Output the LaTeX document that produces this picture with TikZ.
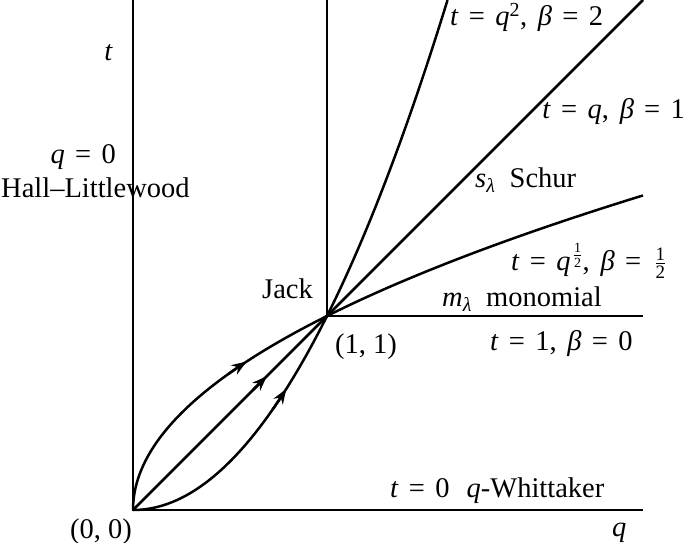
\documentclass[tikz,border=0pt]{standalone}
\usepackage{amsmath}
\usepackage{fontspec}
\setmainfont{Liberation Serif}
\usetikzlibrary{arrows.meta}
\newcommand{\vi}[1]{\textit{#1}}
\newcommand{\eqs}{\hspace{0.36em}=\hspace{0.36em}}
\newcommand{\cms}{,\hspace{0.38em}}
\newcommand{\fd}[2]{\hbox{\fontsize{#1}{#1}\selectfont #2}}
\newcommand{\half}{$\frac{\fd{19}{1}}{\fd{19}{2}}$}
\newcommand{\suphalf}{$^{\frac{\fd{14}{1}}{\fd{14}{2}}}$}
\begin{document}
\begin{tikzpicture}[x=1pt,y=-1pt,
  axis/.style={line width=2.5pt},
  crv/.style={line width=2.5pt},
  tip/.style={line width=2.5pt,-{Stealth[length=15pt,width=11pt]}},
  lbl/.style={inner sep=0pt,font=\fontsize{28.5}{34}\selectfont}]
\useasboundingbox (0,0) rectangle (685,543);
% axes and lines
\coordinate (O) at (133,510);
\coordinate (P) at (327,316);
\coordinate (Otop) at (133,0);
\coordinate (Qend) at (643,510);
\coordinate (Ptop) at (327,0);
\coordinate (Pright) at (643,316);
\coordinate (Dend) at (643,0);
\draw[axis] (Otop) -- (O) -- (Qend);
\draw[axis] (Ptop) -- (P) -- (Pright);
% diagonal t=q
\draw[crv] (O) -- (Dend);
% t = q^2
\draw[crv,smooth,samples=80,domain=0:1.6214] plot ({133+194*\x},{510-194*\x*\x});
% t = q^(1/2)
\draw[crv,smooth,samples=80,domain=0:1.6214] plot ({133+194*\x*\x},{510-194*\x});
% arrows
\draw[tip,smooth,samples=5,domain=0.70:0.765] plot ({133+194*\x*\x},{510-194*\x});
\draw[tip] (O) ++(0.62*194,-0.62*194) -- ++(0.07*194,-0.07*194);
\draw[tip,smooth,samples=5,domain=0.72:0.79] plot ({133+194*\x},{510-194*\x*\x});
% labels
\node[lbl,anchor=base east] (tl) at (113,61) {\vi{t}};
\node[lbl,anchor=base east] (q0) at (116,163) {\vi{q}\eqs 0};
\node[lbl,anchor=base west] (hl) at (1,197) {Hall–Littlewood};
\node[lbl,anchor=base west] (l2) at (450,26) {\vi{t}\eqs\vi{q}\textsuperscript{2}\cms\vi{β}\eqs 2};
\node[lbl,anchor=base east] (l1) at (685,118) {\vi{t}\eqs\vi{q}\cms\vi{β}\eqs 1};
\node[lbl,anchor=base west] (sc) at (475,187) {\vi{s}$_{\text{\itshape λ}}$\hspace{0.5em}Schur};
\node[lbl,anchor=base west] (lh) at (511,270) {\vi{t}\eqs\vi{q}\hspace{0.08em}\suphalf\cms\vi{β}\eqs\hspace{0.1em}\half};
\node[lbl,anchor=base east] (jk) at (313,298) {Jack};
\node[lbl,anchor=base west] (mo) at (442,306) {\vi{m}$_{\text{\itshape λ}}$\hspace{0.5em}monomial};
\node[lbl,anchor=base west] (p11) at (335,353) {(1,\hspace{0.25em}1)};
\node[lbl,anchor=base west] (l0) at (490,350) {\vi{t}\eqs 1\cms\vi{β}\eqs 0};
\node[lbl,anchor=base west] (wh) at (390,497) {\vi{t}\eqs 0\hspace{0.6em}\vi{q}-Whittaker};
\node[lbl,anchor=base west] (p00) at (70,538) {(0,\hspace{0.25em}0)};
\node[lbl,anchor=base west] (ql) at (612,536) {\vi{q}};
\end{tikzpicture}
\end{document}
